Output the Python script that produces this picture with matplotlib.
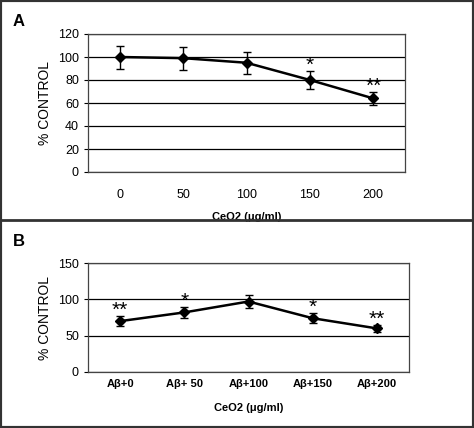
import matplotlib
matplotlib.use("Agg")
import matplotlib.pyplot as plt
from matplotlib.patches import Rectangle

plt.rcParams['font.family'] = ['Liberation Sans', 'DejaVu Sans']

a_labels = ['0', '50', '100', '150', '200']
a_vals = [100, 99, 95, 80, 64]
a_err = [10, 10, 9.5, 8, 6]
a_stars = ['', '', '', '*', '**']

b_labels = ['A\u03b2+0', 'A\u03b2+ 50', 'A\u03b2+100', 'A\u03b2+150', 'A\u03b2+200']
b_vals = [70, 82, 97, 74, 60]
b_err = [7, 8, 9, 7, 5]
b_stars = ['**', '*', '', '*', '**']

W, H = 474, 428
fig = plt.figure(figsize=(W/100, H/100), dpi=100)
fig.patches.append(Rectangle((0, 0), 1, 1, transform=fig.transFigure, fill=False, ec='#333333', lw=3))
fig.add_artist(plt.Line2D([0, 1], [1-220/H, 1-220/H], color='#333333', lw=2))

def ax_at(x0, y0, x1, y1):
    return fig.add_axes([x0/W, 1-y1/H, (x1-x0)/W, (y1-y0)/H])

def panel(ax, labels, vals, err, stars, ymax, step, tickpad):
    x = list(range(len(vals)))
    ax.errorbar(x, vals, yerr=err, color='black', marker='D', ms=5, lw=1.8,
                capsize=3, elinewidth=1, capthick=1)
    ax.set_xlim(-0.5, len(vals)-0.5)
    ax.set_ylim(0, ymax)
    ax.set_yticks(range(0, ymax+1, step))
    ax.yaxis.grid(True, color='black', lw=0.9)
    ax.set_axisbelow(True)
    ax.set_xticks(x)
    ax.set_xticklabels(labels)
    ax.tick_params(axis='x', length=0, pad=tickpad)
    ax.tick_params(axis='y', length=3, labelsize=9)
    for s in ax.spines.values():
        s.set_color('#444444'); s.set_linewidth(0.9)
    ax.set_ylabel('% CONTROL', fontsize=10)
    for xi, v, e, s in zip(x, vals, err, stars):
        if s:
            ax.annotate(s, (xi, v+e), xytext=(0, -3), textcoords='offset points',
                        ha='center', va='bottom', fontsize=15)

axA = ax_at(88, 34, 405, 172)
panel(axA, a_labels, a_vals, a_err, a_stars, 120, 20, 12)
axA.tick_params(axis='x', labelsize=9)
axA.set_xlabel('CeO2 (\u03bcg/ml)', fontsize=8, fontweight='bold', labelpad=8)
fig.text(13/W, 1-22/H, 'A', fontsize=12, fontweight='bold', va='center')

axB = ax_at(88, 263, 409, 372)
panel(axB, b_labels, b_vals, b_err, b_stars, 150, 50, 5)
axB.tick_params(axis='x', labelsize=8)
for t in axB.get_xticklabels():
    t.set_fontweight('bold')
axB.set_xlabel('CeO2 (\u03bcg/ml)', fontsize=8, fontweight='bold', labelpad=10)
fig.text(13/W, 1-242/H, 'B', fontsize=12, fontweight='bold', va='center')

fig.savefig('out.png', dpi=100)
